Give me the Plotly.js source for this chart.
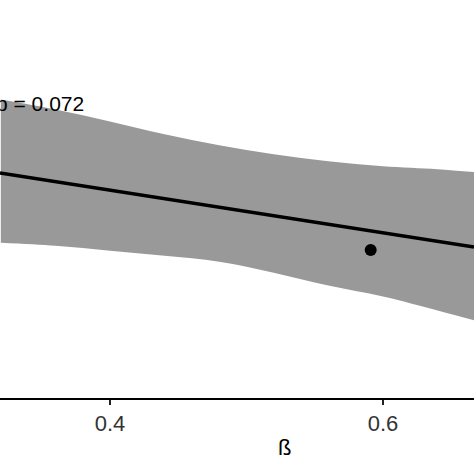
<!DOCTYPE html>
<html>
<head>
<meta charset="utf-8">
<script src="https://cdn.plot.ly/plotly-3.0.1.min.js"></script>
<style>
  html, body { margin: 0; padding: 0; background: #fff; }
  #chart { width: 474px; height: 474px; }
</style>
</head>
<body>
<div id="chart"></div>
<script>
// values (y in arbitrary units, y-axis is cropped away)
const bandX = [0.32, 0.36, 0.40, 0.44, 0.48, 0.52, 0.56, 0.60, 0.64, 0.667];
const bandUpper = [2.00, 1.90, 1.78, 1.65, 1.54, 1.45, 1.38, 1.33, 1.30, 1.27];
const bandLower = [0.56, 0.53, 0.48, 0.43, 0.37, 0.26, 0.13, 0.02, -0.12, -0.22];

const fitX = [0.3194, 0.6667];
const fitY = [1.261, 0.518];

const pointX = [0.591];
const pointY = [0.488];

const pLabel = "p = 0.072";
const xTitle = "ß";

const traces = [];

// --- confidence band ---
traces.push({
    x: bandX, y: bandLower,
    type: "scatter", mode: "lines",
    line: { width: 0, color: "#999999", shape: "spline" },
    hoverinfo: "skip", showlegend: false
});
traces.push({
    x: bandX, y: bandUpper,
    type: "scatter", mode: "lines",
    line: { width: 0, color: "#999999", shape: "spline" },
    fill: "tonexty", fillcolor: "#999999",
    hoverinfo: "skip", showlegend: false
});

// --- regression line ---
traces.push({
    x: fitX, y: fitY,
    type: "scatter", mode: "lines",
    line: { color: "#000000", width: 3.5 },
    showlegend: false
});

// --- observed point ---
traces.push({
    x: pointX, y: pointY,
    type: "scatter", mode: "markers",
    marker: { color: "#000000", size: 12 },
    showlegend: false
});

const layout = {
    width: 474, height: 474,
    margin: { l: 0, r: 0, t: 0, b: 76 },
    paper_bgcolor: "#ffffff", plot_bgcolor: "#ffffff",
    showlegend: false,
    font: { family: "Liberation Sans, Arial, sans-serif" },

    xaxis: {
        range: [0.3194, 0.6667],
        tickvals: [0.4, 0.6], ticktext: ["0.4", "0.6"],
        ticks: "outside", ticklen: 5, tickwidth: 1.3, tickcolor: "#222222",
        tickfont: { size: 22, color: "#333333" },
        showline: true, linecolor: "#000000", linewidth: 1.5,
        showgrid: false, zeroline: false
    },
    yaxis: {
        range: [-1, 3],
        visible: false, showgrid: false, zeroline: false
    },

    annotations: [
        {
            x: 0.3823, y: 1.955, xref: "x", yref: "y",
            text: pLabel, showarrow: false,
            xanchor: "right", yanchor: "middle",
            font: { size: 21, color: "#000000" }
        },
        {
            x: 0.528, y: -0.125, xref: "x", yref: "paper",
            text: xTitle, showarrow: false,
            xanchor: "center", yanchor: "middle",
            font: { size: 22, color: "#000000" }
        }
    ]
};

Plotly.newPlot("chart", traces, layout, { displayModeBar: false, staticPlot: true });
</script>
</body>
</html>
